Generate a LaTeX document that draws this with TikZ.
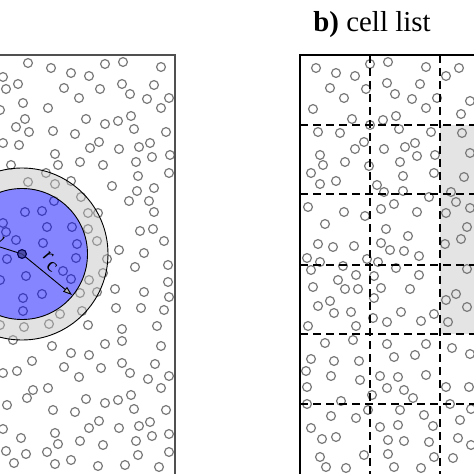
\documentclass[tikz,border=0pt]{standalone}
\usepackage{fontspec}
\setmainfont{Liberation Serif}
\usetikzlibrary{arrows.meta}
\definecolor{ptcl}{RGB}{125,125,125}
\definecolor{cellgray}{RGB}{228,228,228}
\definecolor{frameA}{RGB}{80,80,80}
\tikzset{
  particle/.style={draw=ptcl, line width=1.25bp, fill=none},
  gridline/.style={draw=black, line width=1.1bp, dash pattern=on 8bp off 5bp},
  panelframe/.style={line width=1.7bp},
  radius line/.style={draw=black, line width=0.9bp},
}
\begin{document}
\begin{tikzpicture}[x=1bp,y=-1bp]
\useasboundingbox (0,0) rectangle (474,474);
\fill[white] (0,0) rectangle (474,474);
\begin{scope}
\clip (0,0) rectangle (474,474);
% ---------- panel a ----------
\foreach \px/\py in {28/63, 51/68, 3/77, 71/73, 89/76, 105/64, 123/62, 161/67,
6/89, 18/84, 64/88, 100/89, 122/84, 154/85, 130/94, 79/98, 147/99, 169/98,
23/103, 0/110, 48/108, 161/108, 25/119, 86/119, 105/124, 118/121, 131/116,
16/127, 29/132, 53/131, 75/134, 134/129, 166/132,
3/143, 19/145, 90/148, 99/142, 119/149, 139/147, 150/143,
55/154, 152/157, 170/155, 11/165, 58/165, 80/162, 103/165, 136/162,
169/173, 46/173, 138/176, 28/182, 55/184, 71/181, 112/186, 137/191, 154/188,
81/197, 129/201, 149/201, 54/201,
154/212, 25/212, 42/211, 88/213, 98/213,
47/227, 72/227, 88/229, 140/231, 153/229, 3/223, 6/232,
16/240, 43/243, 77/244, 97/241, 119/250, 144/253, 164/241,
7/259, 76/258, 107/259, 135/267, 168/265,
26/276, 63/271, 71/279, 89/280, 103/273, 0/280, 168/282,
115/289, 144/292, 169/297, 23/298, 42/294, 80/293, 97/292,
23/311, 60/314, 82/311, 116/308, 141/308, 164/310,
0/325, 24/327, 49/324, 88/325, 122/329, 157/326,
13/340, 52/346, 105/344, 122/341, 161/346,
71/353, 89/355, 32/361,
3/373, 17/371, 64/367, 79/377, 101/368, 122/363, 130/373, 155/364, 148/379, 169/376,
161/388, 33/390, 27/398, 48/388, 7/405, 86/399, 105/403, 118/400, 131/395,
134/409, 166/410, 53/410, 75/412,
3/429, 99/421, 89/428, 119/428, 139/426, 150/422,
21/438, 55/433, 58/444, 80/441, 103/445, 136/441, 152/436, 169/434,
6/451, 26/454, 47/452, 71/460, 138/455, 169/452,
14/463, 55/464, 98/466, 125/465, 159/467}
  \draw[particle] (\px,\py) circle[radius=4.4];
\coordinate (ctr) at (22,254);
% shell (gray ring) and cutoff sphere (blue)
\fill[black!25, fill opacity=0.45, even odd rule] (ctr) circle[radius=86] (ctr) circle[radius=65.5];
\fill[blue, fill opacity=0.48] (ctr) circle[radius=65.5];
\draw[black, line width=0.9bp] (ctr) circle[radius=86];
\draw[black, line width=0.9bp] (ctr) circle[radius=65.5];
\coordinate (rim) at (72,295);
\coordinate (shell) at (-60,228);
\draw[radius line] (ctr) -- (shell);
\draw[radius line, -{Triangle[open, length=9bp, width=6bp, fill=black!30]}] (ctr) -- (rim);
\fill[blue!45!black!75, fill opacity=0.8] (ctr) circle[radius=4.4];
\draw[draw=blue!30!black, line width=1.1bp] (ctr) circle[radius=4.4];
\node[rotate=-40, font=\fontsize{20}{24}\selectfont, inner sep=0pt] (rclabel) at (50,262) {\textit{r}\kern1.5bp\raisebox{-6bp}{c}};
\node[rotate=-18, font=\fontsize{20}{24}\selectfont, inner sep=0pt] (rvlabel) at (-4,236) {\textit{r}\kern1bp\raisebox{-6bp}{\textit{v}}};
% ---------- panel b ----------
\fill[cellgray] (440,125) rectangle (500,334);
\foreach \px/\py in {316/68, 336/73, 355/76, 370/64, 388/62, 426/67, 446/76, 459/68,
330/88, 344/98, 366/89, 387/83, 395/94, 420/84, 412/99, 437/98, 470/101,
313/109, 352/119, 370/125, 383/120, 396/116, 426/108, 461/114,
318/132, 340/133, 364/142, 355/149, 384/149, 399/129, 405/147, 415/143, 431/132, 462/133,
320/155, 323/165, 345/162, 369/166, 400/162, 417/156, 435/155, 470/153,
311/173, 336/181, 320/184, 403/176, 434/173, 464/177,
377/185, 384/192, 403/191, 429/197, 451/192,
308/207, 344/212, 365/216, 381/209, 394/204, 417/212, 446/213, 456/202, 470/208,
325/224, 386/229, 408/236, 467/227,
318/244, 333/247, 354/246, 381/243, 390/250, 404/251, 419/256, 445/244, 461/239,
307/258, 320/262, 311/270, 343/266, 356/275, 367/259, 378/262, 374/276, 396/268, 419/275, 467/269,
313/287, 338/280, 345/289, 358/289, 381/288, 410/289, 374/298, 446/300, 456/294, 467/307,
318/306, 330/301, 334/313, 351/312, 373/318, 387/322, 401/312, 421/321, 434/314, 448/322,
308/326, 356/326,
325/343, 353/340, 387/344, 426/344, 452/348, 470/354,
311/359, 334/361, 359/361, 394/357, 415/355,
306/371, 331/376, 360/380, 380/376, 398/377, 426/375,
307/387, 387/388, 404/390, 446/387, 469/387,
372/395, 413/398,
307/404, 341/401, 368/410, 400/410, 450/404, 471/409,
331/416, 356/418, 424/415,
380/427, 398/425, 433/426, 460/420,
311/428, 322/439, 336/437, 388/440, 404/441, 429/442, 458/438, 471/445,
320/457, 364/455, 388/454, 434/457, 453/458,
326/467, 346/468, 394/467, 421/468}
  \draw[particle] (\px,\py) circle[radius=4.4];
% cell grid
\foreach \gx in {370,440}
  \draw[gridline] (\gx,55) -- (\gx,480);
\foreach \gy in {125,194,265,334,404}
  \draw[gridline] (300,\gy) -- (480,\gy);
% frames
\draw[panelframe, draw=frameA] (-10,55) -- (175,55) -- (175,480);
\draw[panelframe, draw=black] (300,480) -- (300,55) -- (480,55);
\end{scope}
\node[anchor=base, font=\fontsize{29}{34}\selectfont, inner sep=0pt] (titleb) at (372,32) {\textbf{b)} cell list};
\end{tikzpicture}
\end{document}
